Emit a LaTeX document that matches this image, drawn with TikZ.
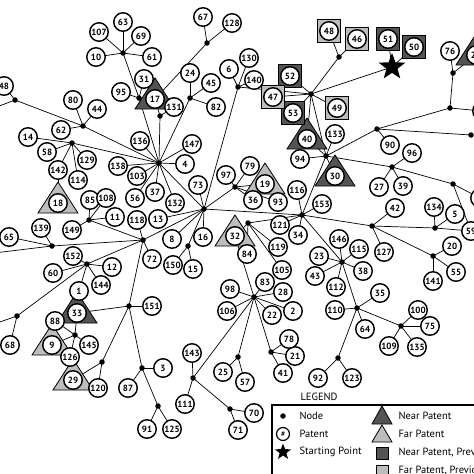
\documentclass[tikz,border=0pt]{standalone}
\usepackage{fontspec}
\setmainfont{PT Sans}
\usetikzlibrary{shapes.geometric}
\pgfdeclarelayer{bg}
\pgfsetlayers{bg,main}
\definecolor{neargray}{gray}{0.33}
\definecolor{fargray}{gray}{0.74}
\newcommand{\tripat}[5]{% style, name, x, y, label
  \filldraw[#1] (#3,#4-21) -- (#3-20,#4+10) -- (#3+20,#4+10) -- cycle;
  \node[pat] (n#2) at (#3,#4) {#5};}
\newcommand{\sqpat}[4]{% style, name, x, y
  \node[#1] at (#3,#4) {};
  \node[pat] (n#2) at (#3,#4) {#2};}

\begin{document}
\begin{tikzpicture}[x=1pt,y=-1pt,
  pat/.style={circle,draw,line width=1.4pt,fill=white,minimum size=18.5pt,inner sep=0pt,
    font=\fontsize{9}{9}\selectfont\bfseries},
  jn/.style={circle,fill=black,minimum size=5.5pt,inner sep=0pt},
  link/.style={line width=0.7pt},
  neartri/.style={fill=neargray,draw=black,line width=0.8pt},
  fartri/.style={fill=fargray,draw=black,line width=0.8pt},
  nearsq/.style={rectangle,fill=neargray,draw=black,line width=0.8pt,minimum size=23pt},
  farsq/.style={rectangle,fill=fargray,draw=black,line width=0.8pt,minimum size=23pt},
  legtext/.style={anchor=west,font=\fontsize{10.5}{11}\selectfont}]
  \useasboundingbox (0,0) rectangle (474,474);
  \clip (0,0) rectangle (474,474);

  % near / far patents
  \tripat{neartri}{17}{155}{99}{17}
  \tripat{neartri}{40}{307}{139}{40}
  \tripat{neartri}{30}{335}{176}{30}
  \tripat{neartri}{33}{77}{313}{33}
  \tripat{neartri}{26}{476}{55}{26}
  \tripat{fartri}{18}{58}{203}{18}
  \tripat{fartri}{19}{265}{184}{19}
  \tripat{fartri}{32}{235}{236}{32}
  \tripat{fartri}{9}{52}{345}{9}
  \tripat{fartri}{29}{73}{380}{29}

  % previously cited
  \sqpat{nearsq}{52}{290}{76}
  \sqpat{nearsq}{53}{293}{113}
  \sqpat{nearsq}{51}{388}{39}
  \sqpat{nearsq}{50}{414}{47}
  \sqpat{farsq}{47}{273}{97}
  \sqpat{farsq}{48}{329}{31}
  \sqpat{farsq}{46}{357}{39}
  \sqpat{farsq}{49}{337}{108}

  % patents
  \foreach \n/\x/\y in {63/123/22,107/99/32,69/141/36,10/96/57,61/152/57,31/144/79,
      95/121/92,80/73/100,44/97/109,67/203/17,128/232/23,6/229/69,130/249/58,
      140/254/80,24/190/73,45/211/83,82/216/107,131/174/107,76/450/51,62/61/130,
      14/28/137,58/47/152,129/87/160,142/58/170,114/78/180,136/140/141,138/118/166,
      103/137/176,37/155/192,56/135/198,147/192/144,4/185/164,132/175/203,13/158/219,
      73/198/185,97/226/175,79/250/166,36/253/200,93/278/202,116/297/190,94/300/159,
      133/335/134,153/322/204,121/280/225,34/298/235,90/390/145,96/412/153,27/379/187,
      39/403/186,42/395/208,134/434/207,5/455/214,59/471/231,85/90/200,108/106/198,
      11/115/217,118/137/220,139/41/228,149/72/230,65/9/237,72/152/259,152/73/256,
      12/112/267,60/53/273,144/101/285,1/79/291,151/152/306,88/55/321,145/89/345,
      68/10/345,126/70/357,120/98/388,87/128/388,91/147/429,125/172/429,3/163/368,
      143/192/353,111/185/404,25/223/372,57/245/382,70/254/413,71/238/430,41/283/373,
      21/295/356,78/289/339,8/172/239,16/203/237,150/173/265,15/193/269,84/247/254,
      119/278/247,105/282/270,98/230/289,83/265/282,28/283/292,106/227/311,22/272/315,
      2/293/311,146/339/239,115/359/249,127/384/252,23/319/256,43/315/276,38/363/271,
      112/336/287,20/452/246,55/456/272,141/433/281,35/380/293,110/335/310,64/365/329,
      100/418/310,75/430/326,109/389/346,135/417/347,92/318/378,123/352/378}
    \node[pat] (n\n) at (\x,\y) {\n};
  \node[pat] (nL48) at (4,86) {48};
  \node[pat] (nR1) at (482,111) {};
  \node[pat] (nR2) at (480,198) {};

  \node[star,star points=5,star point ratio=2.4,fill=black,minimum size=28pt,inner sep=0pt]
    (start) at (392,67) {};

  % junctions
  \foreach \j/\x/\y in {A/123/53,B/139/98,C1/160/116,C/159/163,67/207/43,24/190/98,
      6/238/87,H/311/94,48/339/57,76/453/73,R1/450/108,R2/377/129,R3/471/135,
      40/326/156,96/392/167,39/453/184,D/204/209,97/235/187,G/302/215,32/248/223,
      62/83/126,14/72/143,L48/15/100,85/89/220,E/143/240,65/52/246,152/87/264,
      68/17/316,151/129/306,33/75/335,29/102/362,87/142/368,91/158/406,150/188/246,
      F/254/297,21/271/352,25/238/357,143/193/378,70/230/409,42/372/226,134/435/228,
      20/433/256,146/342/262,35/357/308,100/401/326,92/338/358}
    \node[jn] (j\j) at (\x,\y) {};

  \coordinate (eL1) at (-6,108);
  \coordinate (eL2) at (-6,253);
  \coordinate (eL3) at (-6,324);

  % connectors
  \begin{pgfonlayer}{bg}
    \foreach \a/\b in {jA/n63,jA/n107,jA/n69,jA/n10,jA/n61,jA/jB,
        jB/n95,jB/n31,jB/n17,jB/jC,jC1/n17,jC1/n131,jC1/jC,
        j67/n67,j67/n128,j67/n17,j24/n24,j24/n45,j24/n82,j24/jC,
        j6/n6,j6/n130,j6/n140,j6/jH,j6/jD,
        jH/n52,jH/n47,jH/n53,jH/n49,jH/j48,jH/start,jH/n40,jH/j40,
        j48/n48,j48/n46,start/n51,start/n50,
        j76/n76,j76/n26,j76/jR1,jR1/jR2,jR1/nR1,jR2/n90,jR2/j40,jR2/jR3,
        j40/n133,j40/n94,j40/n40,j40/n30,j40/jG,j40/j96,
        j96/n96,j96/n27,j96/n39,j96/j39,j39/nR2,j39/n59,
        jC/n136,jC/n138,jC/n103,jC/n56,jC/n37,jC/n132,jC/n147,jC/n4,
        jC/j62,jC/j14,jC/jD,
        j62/n80,j62/n44,j62/n62,j62/jL48,jL48/nL48,jL48/eL1,
        j14/n14,j14/n58,j14/n142,j14/n114,j14/n129,n142/n18,
        jD/n73,jD/n16,jD/n8,jD/j150,jD/j97,jD/jG,jD/jE,jD/n13,
        j97/n97,j97/n79,j97/n19,j97/n36,j97/n93,
        jG/n116,jG/n153,jG/n121,jG/n34,jG/j42,jG/j146,jG/j32,
        j32/n32,j32/n84,j32/n119,j32/n105,
        jF/n98,jF/n83,jF/n28,jF/n106,jF/n22,jF/n2,jF/n32,jF/j25,jF/j21,jF/j143,
        j21/n78,j21/n21,j21/n41,j25/n25,j25/n57,
        j143/n143,j143/n111,j143/j70,j70/n70,j70/n71,
        j85/n85,j85/n108,j85/n11,j85/n149,j85/jE,
        jE/n72,jE/j65,jE/j152,jE/j151,jE/n118,
        j65/n65,j65/n139,j65/eL2,
        j152/n152,j152/n12,j152/n60,j152/n144,j152/n1,j152/j68,
        j68/n68,j68/eL3,
        j151/n151,j151/n33,j151/j87,j151/j29,
        j33/n88,j33/n145,j33/n9,j33/n126,j33/n33,n126/n29,
        j29/n120,j29/n29,j87/n87,j87/n3,j87/j91,j91/n91,j91/n125,
        j150/n150,j150/n15,
        j42/n42,j42/n127,j42/j134,j42/j20,
        j134/n134,j134/n5,j134/n59,
        j20/n20,j20/n55,j20/n141,
        j146/n146,j146/n115,j146/n23,j146/n43,j146/n38,j146/n112,j146/j35,
        j35/n35,j35/n110,j35/n64,j35/j100,j35/j92,
        j100/n100,j100/n75,j100/n109,j100/n135,
        j92/n92,j92/n123}
      \draw[link] (\a.center) -- (\b.center);
  \end{pgfonlayer}

  % legend
  \node[legtext] (legtitle) at (297,397) {LEGEND};
  \draw[line width=1.2pt] (272,405) rectangle (490,490);
  \node[jn] (lgnode) at (283,416) {};
  \node[legtext] at (296,416) {Node};
  \node[circle,draw,line width=1.2pt,minimum size=13pt,inner sep=0pt,
    font=\fontsize{7}{7}\selectfont\bfseries] (lgpat) at (283,434) {\#};
  \node[legtext] at (296,434) {Patent};
  \node[star,star points=5,star point ratio=2.4,fill=black,minimum size=17pt,inner sep=0pt]
    (lgstart) at (283,452) {};
  \node[legtext] at (296,452) {Starting Point};
  \filldraw[neartri] (382,406) -- (372,424) -- (392,424) -- cycle;
  \node[legtext] at (395,416) {Near Patent};
  \filldraw[fartri] (382,425) -- (372,442) -- (392,442) -- cycle;
  \node[legtext] at (395,434) {Far Patent};
  \node[nearsq,minimum size=12pt] (lgnear) at (382,453) {};
  \node[legtext] at (395,453) {Near Patent, Previously};
  \node[farsq,minimum size=12pt] (lgfar) at (382,471) {};
  \node[legtext] at (395,471) {Far Patent, Previously};
\end{tikzpicture}
\end{document}
